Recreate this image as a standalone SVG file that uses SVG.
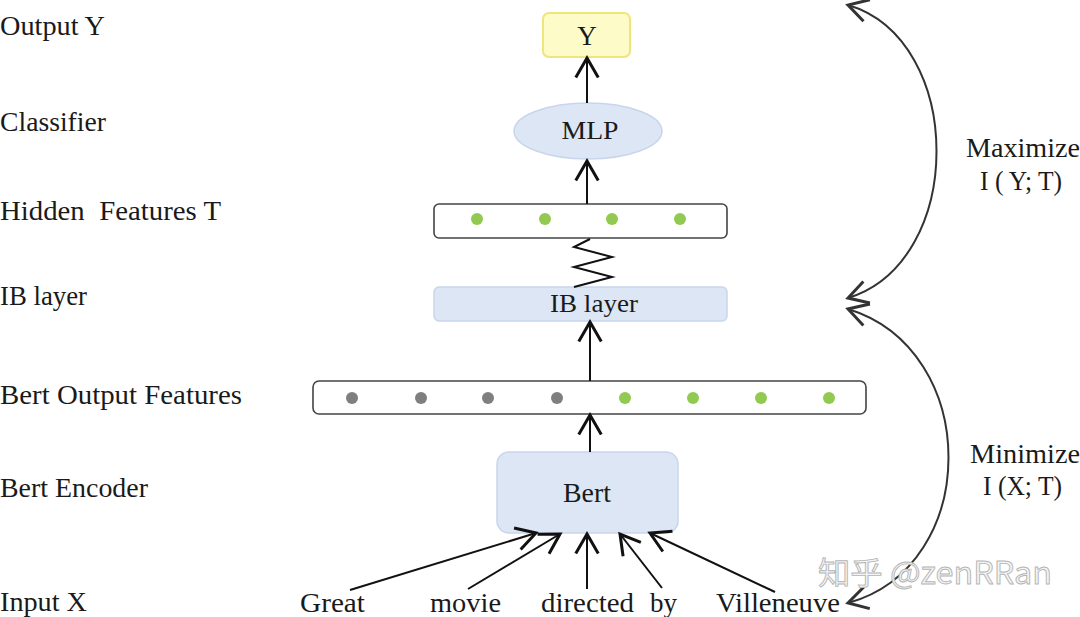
<svg xmlns="http://www.w3.org/2000/svg" width="1080" height="617" viewBox="0 0 1080 617">
<style>
.lbl{font-family:"Liberation Serif","DejaVu Serif",serif;font-size:27px;fill:#1a1a1a}
.nd{font-size:26px}
.ctr{text-anchor:middle}
.blue{fill:#dce6f4;stroke:#c8d6ec;stroke-width:1.5}
.feat{fill:#ffffff;stroke:#444;stroke-width:1.6}
.g{fill:#92c950}
.k{fill:#7f7f7f}
.ln{stroke:#111;stroke-width:2;fill:none}
.arc{stroke:#333;stroke-width:2;fill:none}
.wm{font-family:"Noto Sans CJK SC","Noto Sans",sans-serif;font-size:31px;fill:#f4f4f4;stroke:#b5b5b5;stroke-width:0.9}
</style>
<defs>
<marker id="ah" markerUnits="userSpaceOnUse" markerWidth="30" markerHeight="30" viewBox="-16 -10 20 20" refX="0" refY="0" orient="auto-start-reverse">
<path d="M -13 -7.5 L 0 0 L -13 7.5" fill="none" stroke="#111" stroke-width="2"/>
</marker>
<marker id="ah2" markerUnits="userSpaceOnUse" markerWidth="30" markerHeight="30" viewBox="-16 -10 20 20" refX="0" refY="0" orient="auto-start-reverse">
<path d="M -13 -7.5 L 0 0 L -13 7.5" fill="none" stroke="#333" stroke-width="2"/>
</marker>
</defs>
<rect width="1080" height="617" fill="#ffffff"/>

<g id="left-labels">
<text class="lbl" x="0" y="35" textLength="105" lengthAdjust="spacingAndGlyphs">Output Y</text>
<text class="lbl" x="0" y="131" textLength="106" lengthAdjust="spacingAndGlyphs">Classifier</text>
<text class="lbl" x="0" y="220" textLength="221" lengthAdjust="spacingAndGlyphs" xml:space="preserve">Hidden  Features T</text>
<text class="lbl" x="0" y="305" textLength="87" lengthAdjust="spacingAndGlyphs">IB layer</text>
<text class="lbl" x="0" y="404" textLength="242" lengthAdjust="spacingAndGlyphs">Bert Output Features</text>
<text class="lbl" x="0" y="497" textLength="148" lengthAdjust="spacingAndGlyphs">Bert Encoder</text>
<text class="lbl" x="0" y="611" textLength="87" lengthAdjust="spacingAndGlyphs">Input X</text>
</g>

<g id="node-y">
<rect x="543" y="13" width="87" height="44" rx="6" fill="#fdfbc8" stroke="#f0e57a" stroke-width="2"/>
<text class="lbl ctr" x="587" y="45">Y</text>
</g>

<g id="node-mlp">
<ellipse class="blue" cx="588" cy="131" rx="74" ry="28"/>
<text class="lbl nd ctr" x="590" y="139" textLength="57" lengthAdjust="spacingAndGlyphs">MLP</text>
</g>

<g id="node-hidden">
<rect class="feat" x="434" y="204" width="293" height="34" rx="5"/>
<circle class="g" cx="477" cy="219" r="6"/>
<circle class="g" cx="545" cy="219" r="6"/>
<circle class="g" cx="612" cy="219" r="6"/>
<circle class="g" cx="680" cy="219" r="6"/>
</g>

<g id="node-ib">
<rect class="blue" x="434" y="287" width="293" height="34" rx="5"/>
<text class="lbl nd ctr" x="594" y="312" textLength="88" lengthAdjust="spacingAndGlyphs">IB layer</text>
</g>

<g id="node-bertout">
<rect class="feat" x="313" y="381" width="553" height="33" rx="6"/>
<circle class="k" cx="352" cy="398" r="6"/>
<circle class="k" cx="421" cy="398" r="6"/>
<circle class="k" cx="488" cy="398" r="6"/>
<circle class="k" cx="557" cy="398" r="6"/>
<circle class="g" cx="625" cy="398" r="6"/>
<circle class="g" cx="693" cy="398" r="6"/>
<circle class="g" cx="761" cy="398" r="6"/>
<circle class="g" cx="829" cy="398" r="6"/>
</g>

<g id="node-bert">
<rect class="blue" x="497" y="452" width="181" height="81" rx="12"/>
<text class="lbl ctr" x="587" y="502" font-size="25" textLength="48" lengthAdjust="spacingAndGlyphs">Bert</text>
</g>

<g id="input-words">
<text class="lbl" x="300" y="612" textLength="65" lengthAdjust="spacingAndGlyphs">Great</text>
<text class="lbl" x="430" y="612" textLength="71" lengthAdjust="spacingAndGlyphs">movie</text>
<text class="lbl" x="541" y="612" textLength="93" lengthAdjust="spacingAndGlyphs">directed</text>
<text class="lbl" x="650" y="612" textLength="27" lengthAdjust="spacingAndGlyphs">by</text>
<text class="lbl" x="716" y="612" textLength="124" lengthAdjust="spacingAndGlyphs">Villeneuve</text>
</g>

<g id="right-labels">
<text class="lbl" x="966" y="157" textLength="114" lengthAdjust="spacingAndGlyphs">Maximize</text>
<text class="lbl" x="980" y="190" textLength="82" lengthAdjust="spacingAndGlyphs">I ( Y; T)</text>
<text class="lbl" x="970" y="463" textLength="110" lengthAdjust="spacingAndGlyphs">Minimize</text>
<text class="lbl" x="983" y="495" textLength="79" lengthAdjust="spacingAndGlyphs">I (X; T)</text>
</g>

<g id="connectors">
<line class="ln" x1="587" y1="103" x2="587" y2="58" marker-end="url(#ah)"/>
<line class="ln" x1="587" y1="204" x2="587" y2="161" marker-end="url(#ah)"/>
<polyline class="ln" points="590,239 574,247 612,257 574,267 612,277 574,287"/>
<line class="ln" x1="590" y1="381" x2="590" y2="322" marker-end="url(#ah)"/>
<line class="ln" x1="590" y1="452" x2="590" y2="415" marker-end="url(#ah)"/>
<line class="ln" x1="350" y1="590" x2="536" y2="533" marker-end="url(#ah)"/>
<line class="ln" x1="468" y1="589" x2="560" y2="534" marker-end="url(#ah)"/>
<line class="ln" x1="587" y1="589" x2="587" y2="534" marker-end="url(#ah)"/>
<line class="ln" x1="662" y1="588" x2="620" y2="534" marker-end="url(#ah)"/>
<line class="ln" x1="775" y1="592" x2="650" y2="533" marker-end="url(#ah)"/>
<path class="arc" d="M 848 5 C 966 40, 966 262, 848 298" marker-start="url(#ah2)" marker-end="url(#ah2)"/>
<path class="arc" d="M 848 309 C 982 350, 982 566, 848 603" marker-start="url(#ah2)" marker-end="url(#ah2)"/>
</g>

<text class="wm" x="818" y="584" textLength="234" lengthAdjust="spacingAndGlyphs">知乎 @zenRRan</text>
</svg>
